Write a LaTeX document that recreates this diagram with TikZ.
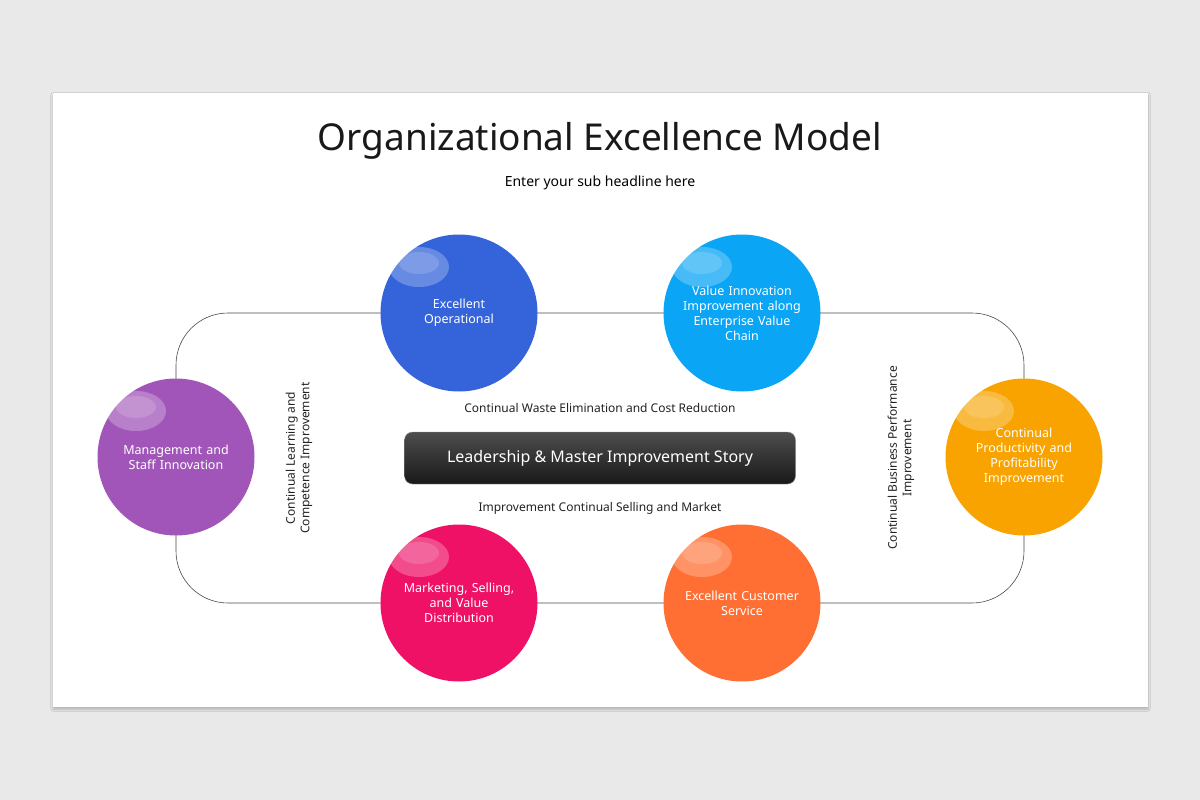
\documentclass[tikz,border=0pt]{standalone}
\usepackage{fontspec}
\setmainfont{Noto Sans}
\usetikzlibrary{shadows.blur}
\definecolor{bg}{HTML}{EAE9EA}
\definecolor{cblue}{HTML}{3563D9}
\definecolor{ccyan}{HTML}{0AA5F5}
\definecolor{cpurple}{HTML}{A155B9}
\definecolor{corange}{HTML}{F8A300}
\definecolor{cpink}{HTML}{EE1166}
\definecolor{cred}{HTML}{FF6F33}
\definecolor{txt}{HTML}{222222}
\begin{document}
\begin{tikzpicture}[x=1pt,y=-1pt,
  ball/.style={circle,minimum size=157pt,inner sep=0pt,draw=none,fill=#1,
    text=white,font=\fontsize{12.5}{15}\selectfont\bfseries,align=center,text width=120pt},
  lbl/.style={font=\fontsize{12}{14.5}\selectfont\bfseries,text=txt,align=center},
  gloss/.style={fill=white,fill opacity=0.25,draw=none}]
\useasboundingbox (0,0) rectangle (1200,800);
\fill[bg] (0,0) rectangle (1200,800);
\fill[white,blur shadow={shadow blur steps=8,shadow xshift=0pt,shadow yshift=-2pt,shadow opacity=25}] (53,93) rectangle (1148,707);
\node[font=\fontsize{37}{40}\selectfont,text=black!90] (title) at (600,141) {Organizational Excellence Model};
\node[font=\fontsize{14}{16}\selectfont,text=black] (sub) at (600,183) {Enter your sub headline here};
\draw[black!70,line width=0.6pt,rounded corners=52pt] (176,313) rectangle (1024,603);
\foreach \n/\x/\y/\c/\t in {op/459/313/cblue/{Excellent\\Operational},
  vi/742/313/ccyan/{Value Innovation\\Improvement along\\Enterprise Value\\Chain},
  ms/176/457/cpurple/{Management and\\Staff Innovation},
  cp/1024/457/corange/{Continual\\Productivity and\\Profitability\\Improvement},
  mk/459/603/cpink/{Marketing, Selling,\\and Value\\Distribution},
  cs/742/603/cred/{Excellent Customer\\Service}}{
  \node[ball=\c] (\n) at (\x,\y) {};
  \fill[gloss] (\x-40,\y-46) ellipse (30pt and 20pt);
  \fill[white,fill opacity=0.15] (\x-40,\y-50) ellipse (20pt and 11pt);
  \node[ball=\c,fill=none] (\n t) at (\x,\y) {\t};
}
\node[rounded corners=8pt,minimum width=391pt,minimum height=52pt,draw=black!40,
  top color=black!70,bottom color=black!90,text=white,
  font=\fontsize{16}{18}\selectfont\bfseries] (bar) at (600,458) {Leadership \& Master Improvement Story};
\node[lbl] (l1) at (600,408) {Continual Waste Elimination and Cost Reduction};
\node[lbl] (l2) at (600,508) {Improvement Continual Selling and Market};
\node[lbl,rotate=90] (l3) at (299,458) {Continual Learning and\\Competence Improvement};
\node[lbl,rotate=90] (l4) at (901,458) {Continual Business Performance\\Improvement};
\end{tikzpicture}
\end{document}
